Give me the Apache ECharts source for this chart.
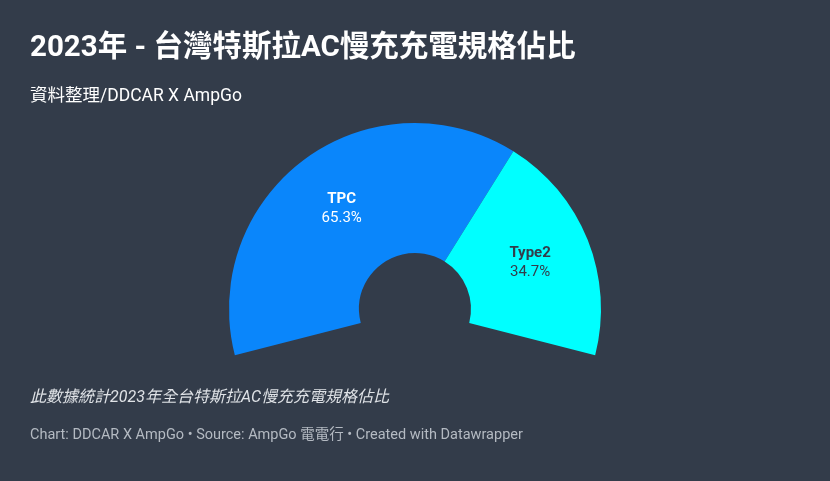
<!DOCTYPE html>
<html><head><meta charset="utf-8">
<script src="https://cdn.jsdelivr.net/npm/echarts@6/dist/echarts.min.js"></script>
<style>html,body{margin:0;padding:0;background:#333c4a}#c{width:830px;height:481px}</style>
</head><body><div id="c"></div>
<script>
const names = ['TPC', 'Type2']
const values = [65.3, 34.7]
const colors = ['#0a86fb', '#00ffff']
const labelColors = ['#ffffff', '#333c4a']

const chart = echarts.init(document.getElementById('c'))
const font = "Roboto, 'Noto Sans CJK TC', sans-serif"
chart.setOption({
  backgroundColor: '#333c4a',
  textStyle: { fontFamily: font },
  graphic: [
    { type: 'text', left: 30, top: 34, style: { text: '2023年 - 台灣特斯拉AC慢充充電規格佔比', fill: '#ffffff', font: "bold 29.5px " + font } },
    { type: 'text', left: 30, top: 88, style: { text: '資料整理/DDCAR X AmpGo', fill: '#ffffff', font: "17.5px " + font } },
    { type: 'text', left: 30, top: 390, style: { text: '此數據統計2023年全台特斯拉AC慢充充電規格佔比', fill: '#dfe2e6', font: "italic 16px " + font } },
    { type: 'text', left: 30, top: 428, style: { text: 'Chart: DDCAR X AmpGo • Source: AmpGo 電電行 • Created with Datawrapper', fill: '#b4bac2', font: "14.5px " + font } }
  ],
  series: [{
    type: 'pie',
    center: [415, 309],
    radius: [56, 186],
    startAngle: 194.4,
    endAngle: -14.4,
    clockwise: true,
    silent: true,
    itemStyle: { borderWidth: 0 },
    labelLine: { show: false },
    data: names.map((n, i) => ({
      name: n, value: values[i],
      itemStyle: { color: colors[i] },
      label: {
        show: true, position: 'inside',
        formatter: '{a|{b}}\n{b|' + values[i].toFixed(1) + '%}',
        rich: {
          a: { color: labelColors[i], fontWeight: 'bold', fontSize: 15, lineHeight: 19, fontFamily: font },
          b: { color: labelColors[i], fontSize: 15, lineHeight: 19, fontFamily: font }
        }
      }
    }))
  }]
})
</script></body></html>
